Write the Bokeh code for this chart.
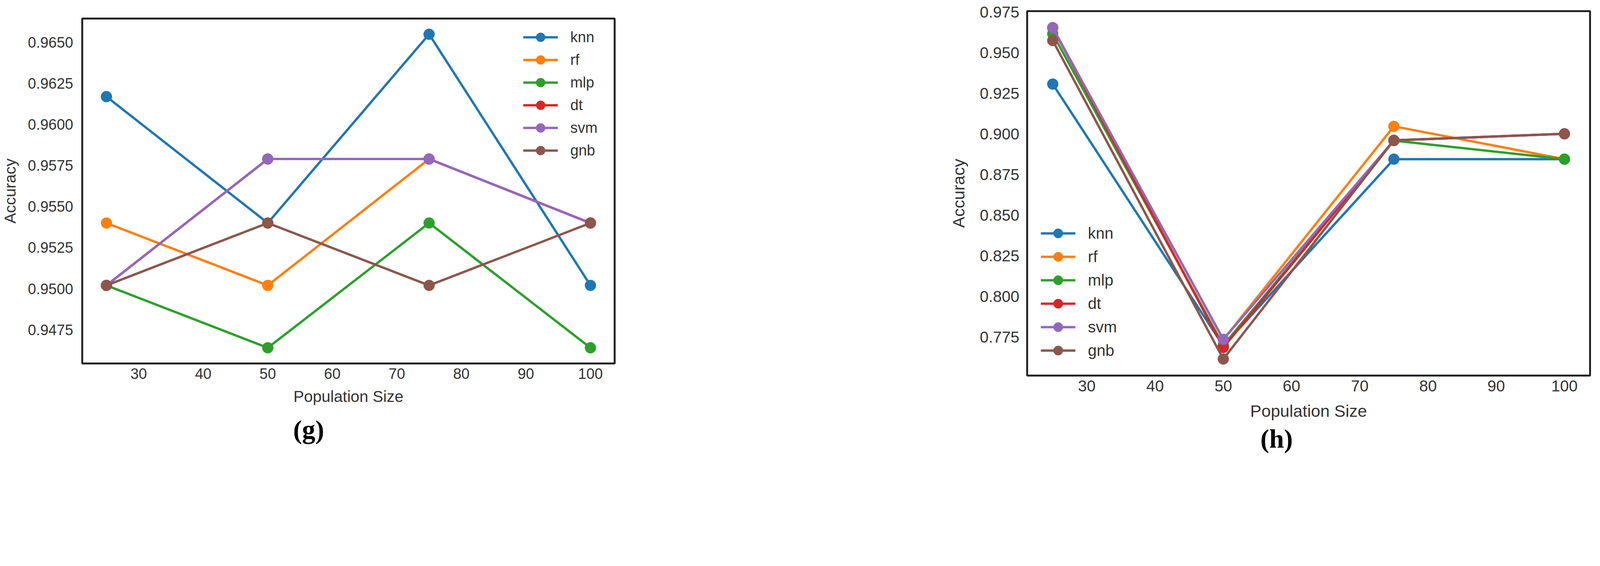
from bokeh.plotting import figure
from bokeh.models import Range1d, FixedTicker, PrintfTickFormatter, Legend, LegendItem, Title, Spacer
from bokeh.layouts import row, column
from bokeh.embed import file_html
from bokeh.resources import INLINE

# ---------------- data ----------------
population = [25, 50, 75, 100]
models = ["knn", "rf", "mlp", "dt", "svm", "gnb"]
colors = ["#1f77b4", "#ff7f0e", "#2ca02c", "#d62728", "#9467bd", "#8c564b"]

# panel (g)
g_knn = [0.9617, 0.9540, 0.9655, 0.9502]
g_rf = [0.9540, 0.9502, 0.9579, 0.9540]
g_mlp = [0.9502, 0.9464, 0.9540, 0.9464]
g_dt = [0.9502, 0.9579, 0.9579, 0.9540]
g_svm = [0.9502, 0.9579, 0.9579, 0.9540]
g_gnb = [0.9502, 0.9540, 0.9502, 0.9540]

# panel (h)
h_knn = [0.9308, 0.7696, 0.8846, 0.8846]
h_rf = [0.9655, 0.7735, 0.9048, 0.8846]
h_mlp = [0.9617, 0.7700, 0.8960, 0.8846]
h_dt = [0.9655, 0.7687, 0.8962, 0.9002]
h_svm = [0.9655, 0.7737, 0.8962, 0.9002]
h_gnb = [0.9576, 0.7616, 0.8962, 0.9002]

x_ticks = [30, 40, 50, 60, 70, 80, 90, 100]
g_yticks = [0.9475, 0.9500, 0.9525, 0.9550, 0.9575, 0.9600, 0.9625, 0.9650]
h_yticks = [0.775, 0.800, 0.825, 0.850, 0.875, 0.900, 0.925, 0.950, 0.975]

FONT = "Liberation Sans"
TXT = "#333333"


def padded(vals):
    lo, hi = min(vals), max(vals)
    m = 0.05 * (hi - lo)
    return Range1d(lo - m, hi + m)


def panel(series, yticks, yfmt, geo):
    allv = [v for s in series for v in s]
    p = figure(frame_width=geo["fw"], frame_height=geo["fh"],
               min_border_left=geo["bl"], min_border_right=geo["br"],
               min_border_top=geo["bt"], min_border_bottom=geo["bb"],
               x_range=padded(population), y_range=padded(allv),
               output_backend="svg", toolbar_location=None)
    p.grid.visible = False
    p.outline_line_color = "#262626"
    p.outline_line_width = 5
    p.background_fill_color = "white"
    p.border_fill_color = "white"

    for ax in (p.xaxis[0], p.yaxis[0]):
        ax.axis_line_color = None
        ax.major_tick_line_color = None
        ax.minor_tick_line_color = None
        ax.major_tick_out = 0
        ax.major_tick_in = 0
        ax.major_label_text_font = FONT
        ax.major_label_text_font_size = f"{geo['fs']}px"
        ax.major_label_text_color = TXT
        ax.axis_label_text_font = FONT
        ax.axis_label_text_font_size = f"{geo['ls']}px"
        ax.axis_label_text_font_style = "normal"
        ax.axis_label_text_color = TXT
    p.xaxis.ticker = FixedTicker(ticks=x_ticks)
    p.yaxis.ticker = FixedTicker(ticks=yticks)
    p.yaxis.formatter = PrintfTickFormatter(format=yfmt)
    p.xaxis.axis_label = "Population Size"
    p.yaxis.axis_label = "Accuracy"
    p.xaxis.major_label_standoff = geo["xstand"]
    p.yaxis.major_label_standoff = geo["ystand"]
    p.xaxis.axis_label_standoff = geo["xlstand"]
    p.yaxis.axis_label_standoff = geo["ylstand"]

    items = []
    for name, col, vals in zip(models, colors, series):
        lr = p.line(population, vals, line_color=col, line_width=6)
        sr = p.scatter(population, vals, size=28, fill_color=col, line_color=col)
        items.append(LegendItem(label=name, renderers=[lr, sr]))

    gh = geo["legh"]
    leg = Legend(items=items, location=geo["legloc"],
                 glyph_width=89, glyph_height=gh, label_height=gh,
                 label_standoff=32, spacing=0, padding=0, margin=0,
                 label_text_font=FONT, label_text_font_size=f"{geo['lfs']}px",
                 label_text_color=TXT, border_line_color=None,
                 background_fill_alpha=0)
    p.add_layout(leg)

    p.add_layout(Title(text=geo["tagtext"], align="left", offset=geo["tagoff"],
                       standoff=geo["tagstand"], text_font="Liberation Serif",
                       text_font_style="bold", text_font_size="68px",
                       text_color="black"), "below")
    return p


geo_g = dict(fw=1363, fh=883, bl=209, br=228, bt=28, bb=226, fs=38, ls=40.5, lfs=38,
             xstand=12, ystand=23, xlstand=19, ylstand=19,
             legloc=(1129, 516), legh=58, tagtext="(g)", tagoff=540, tagstand=38)
geo_h = dict(fw=1441, fh=933, bl=828, br=15, bt=28, bb=195, fs=40.5, ls=43, lfs=40.5,
             xstand=12, ystand=20, xlstand=23, ylstand=27,
             legloc=(35, 34), legh=60, tagtext="(h)", tagoff=597, tagstand=8)

p1 = panel([g_knn, g_rf, g_mlp, g_dt, g_svm, g_gnb], g_yticks, "%.4f", geo_g)
p2 = panel([h_knn, h_rf, h_mlp, h_dt, h_svm, h_gnb], h_yticks, "%.3f", geo_h)

layout = row(column(Spacer(width=10, height=19), p1), p2)
open("out.html", "w").write(file_html(layout, INLINE))
